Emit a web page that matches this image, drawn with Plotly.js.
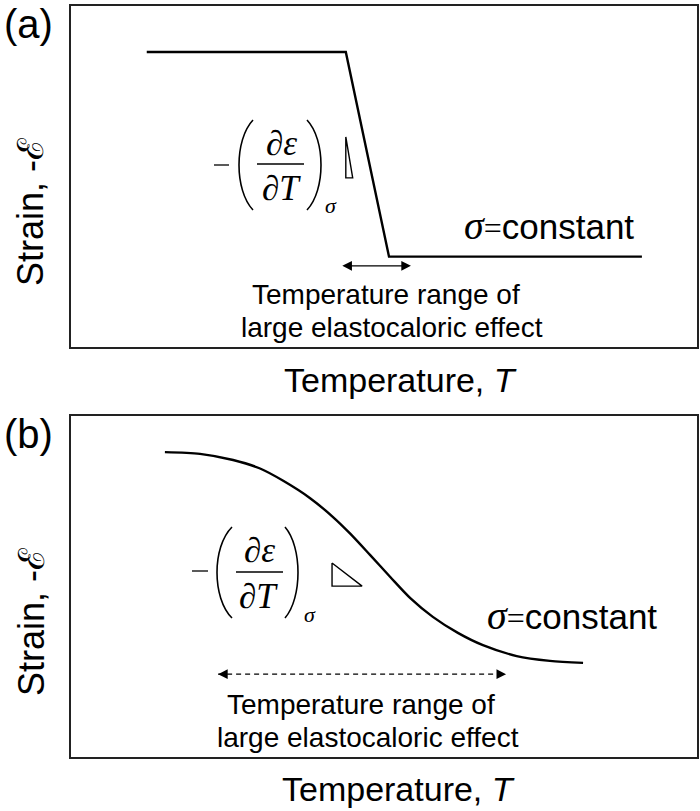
<!DOCTYPE html>
<html>
<head>
<meta charset="utf-8">
<script src="https://cdn.plot.ly/plotly-3.0.1.min.js"></script>
<style>html,body{margin:0;padding:0;background:#fff;}</style>
</head>
<body>
<div id="chart" style="width:700px;height:811px;"></div>
<script>
// ---------- data (arbitrary units, axis range 0-100) ----------
const tempA   = [12.1, 43.9, 50.8, 91.2];
const strainA = [86.5, 86.5, 26.5, 26.5];
const slopeTriA_T      = [43.9, 43.9, 45.0, 43.9];
const slopeTriA_strain = [61.6, 49.6, 49.6, 61.6];
const rangeA_T      = [43.1, 54.3];
const rangeA_strain = 23.8;

const tempB   = [15.0, 20.6, 25.9, 30.2, 33.9, 38.2, 41.9, 44.6, 47.8, 51.0, 54.2, 57.8, 61.8, 65.8, 71.2, 76.5, 81.8];
const strainB = [89.4, 88.9, 87.1, 84.6, 81.0, 75.9, 70.3, 65.5, 59.2, 52.8, 46.6, 41.1, 36.4, 32.8, 29.6, 28.2, 27.6];
const slopeTriB_T      = [41.7, 41.7, 46.5, 41.7];
const slopeTriB_strain = [56.9, 50.1, 50.1, 56.9];
const rangeB_T      = [23.5, 69.5];
const rangeB_strain = 24.3;

// ---------- text ----------
const panelLabels = ['(a)', '(b)'];
const xTitleText  = 'Temperature, <i>T</i>';
const yTitleText  = 'Strain, -ℰ';
const rangeLabel  = ['Temperature range of', 'large elastocaloric effect'];
const condLabel   = '<span style="font-family:\'Liberation Serif\';font-size:40px"><i>σ</i></span><span style="font-family:\'Liberation Serif\';font-size:32px">=</span>constant';

// ---------- layout helpers (pixel -> paper) ----------
const W = 700, H = 811;
const X = p => p / W;
const Y = p => 1 - p / H;
const SANS = 'Liberation Sans, Arial, sans-serif';
const SERIF = 'Liberation Serif, Times New Roman, serif';

const panels = [
  {x0: 71, x1: 697, y0: 6,   y1: 347},
  {x0: 71, x1: 697, y0: 416, y1: 757}
];

// derivative expression geometry per panel (pixels)
const expr = [
  {minus:[214,229,165], lp:[239,253,120,210], rp:[307,321,120,210], bar:[257,304,164], num:[281,143.5], den:[281,188.5], sub:[331,206]},
  {minus:[192,208,571], lp:[217,232,527,618], rp:[285,298,527,618], bar:[236,283,572], num:[259,550.5], den:[258,596.5], sub:[310,614]}
];
const textPos = [
  {lab:[2,24], r1:[386,295], r2:[392,327.5], xt:[400,380], yt:[31,212], cond:[462,225]},
  {lab:[2,434], r1:[361,704], r2:[368,737], xt:[398,789], yt:[31,622], cond:[485,615]}
];

function axisCfg(domain) {
  return {domain: domain, range: [0, 100], showticklabels: false, ticks: '', showgrid: false,
          zeroline: false, showline: true, mirror: true, linecolor: '#222', linewidth: 2, fixedrange: true};
}

function parenPath(x0, x1, top, bottom, left) {
  const w = x1 - x0;
  const h = bottom - top;
  let xe, xc;
  if (left) { xe = x1; xc = x0 - w / 3; } else { xe = x0; xc = x1 + w / 3; }
  return `M ${X(xe)},${Y(top)} C ${X(xc)},${Y(top + h * 0.22)} ${X(xc)},${Y(bottom - h * 0.22)} ${X(xe)},${Y(bottom)}`;
}

const blk = '#000';
const traces = [
  {x: tempA, y: strainA, xaxis: 'x', yaxis: 'y', mode: 'lines', line: {color: blk, width: 2.4}, hoverinfo: 'skip'},
  {x: slopeTriA_T, y: slopeTriA_strain, xaxis: 'x', yaxis: 'y', mode: 'lines', line: {color: blk, width: 1.4}, hoverinfo: 'skip'},
  {x: tempB, y: strainB, xaxis: 'x2', yaxis: 'y2', mode: 'lines', line: {color: blk, width: 2.4, shape: 'spline', smoothing: 0.8}, hoverinfo: 'skip'},
  {x: slopeTriB_T, y: slopeTriB_strain, xaxis: 'x2', yaxis: 'y2', mode: 'lines', line: {color: blk, width: 1.4}, hoverinfo: 'skip'},
  {x: rangeB_T, y: [rangeB_strain, rangeB_strain], xaxis: 'x2', yaxis: 'y2', mode: 'lines', line: {color: blk, width: 1.2, dash: '5px,4px'}, hoverinfo: 'skip'}
];

const annotations = [];
const shapes = [];

// range arrow panel (a): solid, double headed
annotations.push({xref: 'x', yref: 'y', axref: 'x', ayref: 'y', x: rangeA_T[1], y: rangeA_strain, ax: rangeA_T[0], ay: rangeA_strain,
  text: '', showarrow: true, arrowside: 'end+start', arrowhead: 2, startarrowhead: 2, arrowsize: 1.6, startarrowsize: 1.6, arrowwidth: 1.2, arrowcolor: blk, standoff: 0, startstandoff: 0});
// range arrow panel (b): heads on dashed line
annotations.push({xref: 'x2', yref: 'y2', axref: 'x2', ayref: 'y2', x: rangeB_T[1], y: rangeB_strain, ax: rangeB_T[1] - 1.5, ay: rangeB_strain,
  text: '', showarrow: true, arrowhead: 2, arrowsize: 1.6, arrowwidth: 1.2, arrowcolor: blk, standoff: 0});
annotations.push({xref: 'x2', yref: 'y2', axref: 'x2', ayref: 'y2', x: rangeB_T[0], y: rangeB_strain, ax: rangeB_T[0] + 1.5, ay: rangeB_strain,
  text: '', showarrow: true, arrowhead: 2, arrowsize: 1.6, arrowwidth: 1.2, arrowcolor: blk, standoff: 0});

textPos.forEach((t, i) => {
  const base = {xref: 'paper', yref: 'paper', showarrow: false, font: {family: SANS, color: blk}};
  annotations.push(Object.assign({}, base, {x: X(t.lab[0]), y: Y(t.lab[1]), xanchor: 'left', yanchor: 'middle', text: panelLabels[i], font: {family: SANS, size: 40, color: blk}}));
  annotations.push(Object.assign({}, base, {x: X(t.r1[0]), y: Y(t.r1[1]), xanchor: 'center', yanchor: 'middle', text: rangeLabel[0], font: {family: SANS, size: 28, color: blk}}));
  annotations.push(Object.assign({}, base, {x: X(t.r2[0]), y: Y(t.r2[1]), xanchor: 'center', yanchor: 'middle', text: rangeLabel[1], font: {family: SANS, size: 28, color: blk}}));
  annotations.push(Object.assign({}, base, {x: X(t.xt[0]), y: Y(t.xt[1]), xanchor: 'center', yanchor: 'middle', text: xTitleText, font: {family: SANS, size: 34, color: blk}}));
  annotations.push(Object.assign({}, base, {x: X(t.yt[0]), y: Y(t.yt[1]), xanchor: 'center', yanchor: 'middle', textangle: -90, text: yTitleText, font: {family: SANS, size: 36, color: blk}}));
  annotations.push(Object.assign({}, base, {x: X(t.cond[0]), y: Y(t.cond[1]), xanchor: 'left', yanchor: 'middle', text: condLabel, font: {family: SANS, size: 35, color: blk}}));

  const e = expr[i];
  annotations.push(Object.assign({}, base, {x: X(e.num[0]), y: Y(e.num[1]), xanchor: 'center', yanchor: 'middle', text: '<i>∂ε</i>', font: {family: SERIF, size: 35, color: blk}}));
  annotations.push(Object.assign({}, base, {x: X(e.den[0]), y: Y(e.den[1]), xanchor: 'center', yanchor: 'middle', text: '<i>∂T</i>', font: {family: SERIF, size: 35, color: blk}}));
  annotations.push(Object.assign({}, base, {x: X(e.sub[0]), y: Y(e.sub[1]), xanchor: 'center', yanchor: 'middle', text: '<i>σ</i>', font: {family: SERIF, size: 22, color: blk}}));

  shapes.push({type: 'line', xref: 'paper', yref: 'paper', x0: X(e.minus[0]), x1: X(e.minus[1]), y0: Y(e.minus[2]), y1: Y(e.minus[2]), line: {color: blk, width: 1.3}});
  shapes.push({type: 'line', xref: 'paper', yref: 'paper', x0: X(e.bar[0]), x1: X(e.bar[1]), y0: Y(e.bar[2]), y1: Y(e.bar[2]), line: {color: blk, width: 1.3}});
  shapes.push({type: 'path', xref: 'paper', yref: 'paper', path: parenPath(e.lp[0], e.lp[1], e.lp[2], e.lp[3], true), line: {color: blk, width: 1.6}});
  shapes.push({type: 'path', xref: 'paper', yref: 'paper', path: parenPath(e.rp[0], e.rp[1], e.rp[2], e.rp[3], false), line: {color: blk, width: 1.6}});
});

const layout = {
  width: W, height: H,
  margin: {l: 0, r: 0, t: 0, b: 0},
  paper_bgcolor: '#fff', plot_bgcolor: '#fff',
  showlegend: false,
  xaxis:  axisCfg([X(panels[0].x0), X(panels[0].x1)]),
  yaxis:  axisCfg([Y(panels[0].y1), Y(panels[0].y0)]),
  xaxis2: Object.assign(axisCfg([X(panels[1].x0), X(panels[1].x1)]), {anchor: 'y2'}),
  yaxis2: Object.assign(axisCfg([Y(panels[1].y1), Y(panels[1].y0)]), {anchor: 'x2'}),
  annotations: annotations,
  shapes: shapes
};
layout.xaxis.anchor = 'y';
layout.yaxis.anchor = 'x';

Plotly.newPlot('chart', traces, layout, {staticPlot: true, displayModeBar: false});
</script>
</body>
</html>
